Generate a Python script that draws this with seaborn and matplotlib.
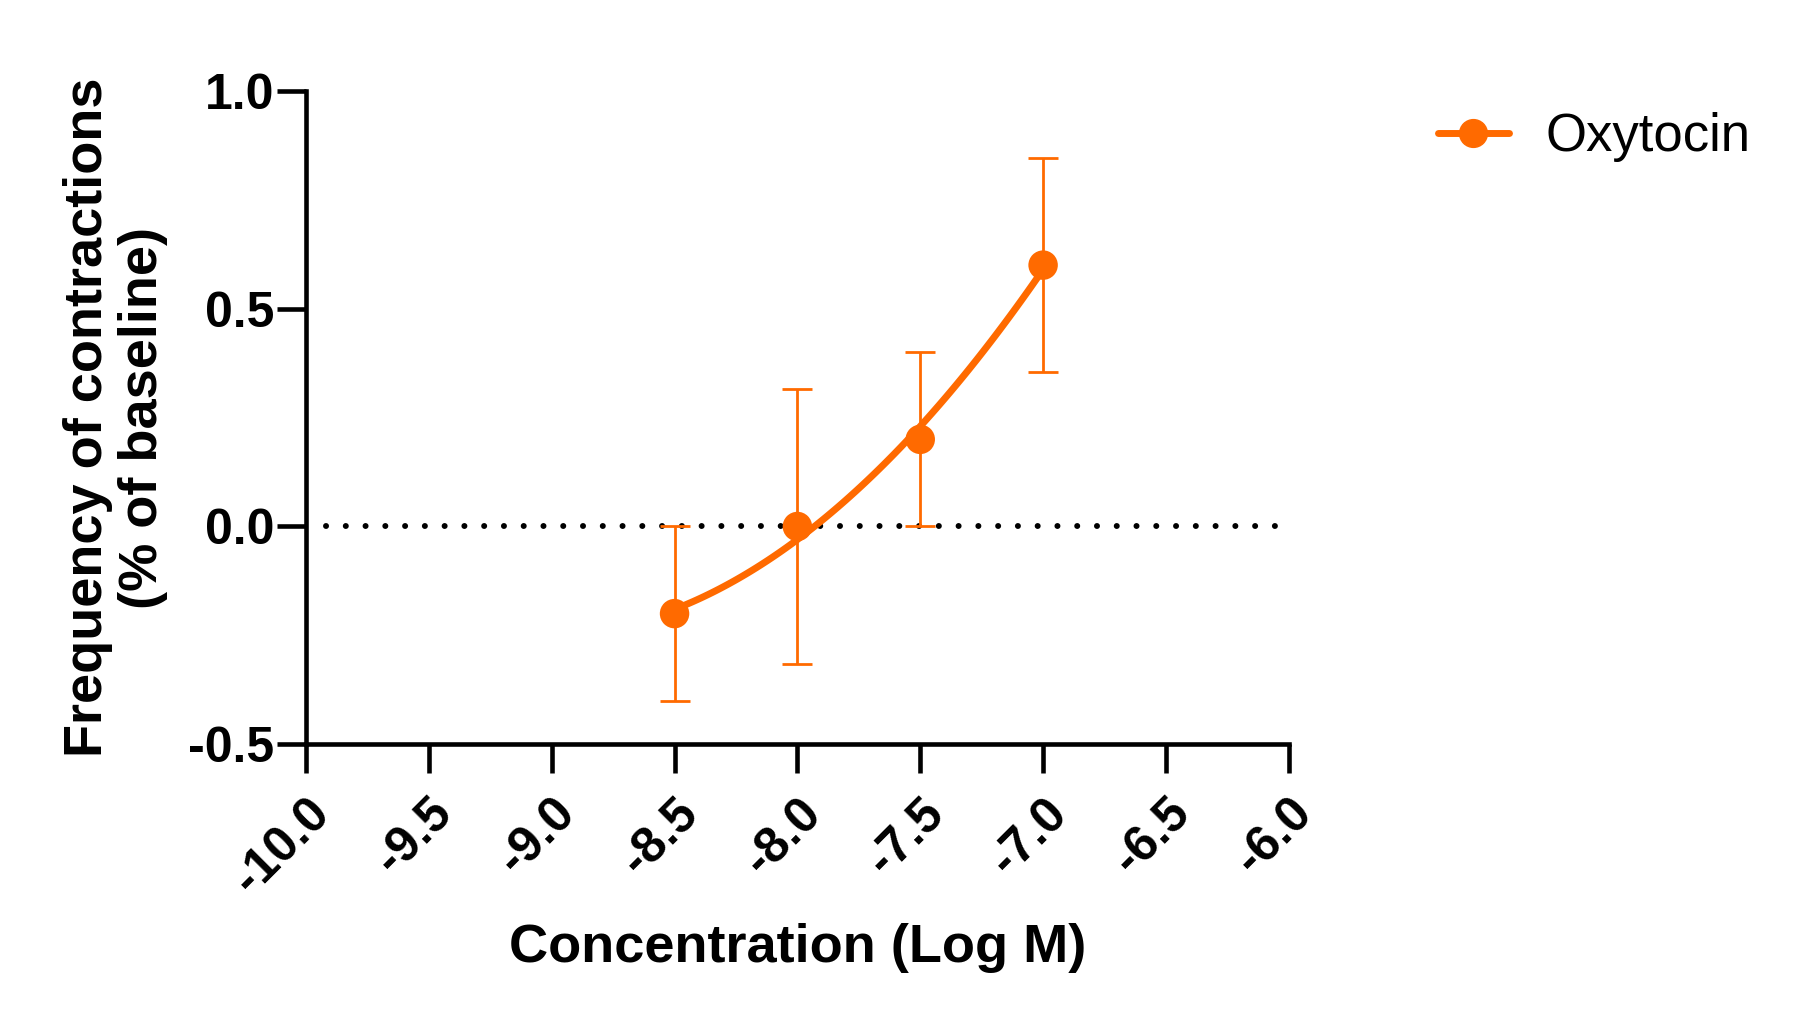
import matplotlib
matplotlib.use("Agg")
import matplotlib.pyplot as plt
from matplotlib.lines import Line2D
import seaborn as sns

# --- data ---
log_conc = [-8.5, -8.0, -7.5, -7.0]
mean_freq = [-0.2, 0.0, 0.2, 0.6]
sem_freq = [0.2, 0.315, 0.2, 0.245]
series_name = "Oxytocin"

x_ticks = [-10.0, -9.5, -9.0, -8.5, -8.0, -7.5, -7.0, -6.5, -6.0]
y_ticks = [-0.5, 0.0, 0.5, 1.0]

ORANGE = "#FF6A00"


def set_style():
    sns.set_theme(style="ticks")
    plt.rcParams['font.family'] = ['Liberation Sans', 'DejaVu Sans']
    plt.rcParams['axes.linewidth'] = 3.3
    plt.rcParams['axes.edgecolor'] = 'black'
    plt.rcParams['text.color'] = 'black'
    plt.rcParams['axes.labelcolor'] = 'black'


def plot():
    set_style()
    fig = plt.figure(figsize=(18, 10.21), dpi=100)
    ax = fig.add_axes([0.170, 0.271, 0.546, 0.640])

    # baseline at 0
    ax.axhline(0, xmin=0.02, xmax=0.995, color='black', lw=4.3,
               linestyle=(0, (0.01, 3.3)), dash_capstyle='round', zorder=1)

    # fitted curve through the means
    sns.regplot(x=log_conc, y=mean_freq, order=2, ci=None, scatter=False,
                truncate=True, color=ORANGE, line_kws={'lw': 5}, ax=ax)

    # error bars + points
    ax.errorbar(log_conc, mean_freq, yerr=sem_freq, fmt='none', ecolor=ORANGE,
                elinewidth=2, capsize=11, capthick=2, zorder=3)
    sns.scatterplot(x=log_conc, y=mean_freq, color=ORANGE, s=450,
                    edgecolor='none', zorder=4, ax=ax)

    ax.set_xlim(-10, -6)
    ax.set_ylim(-0.5, 1.0)
    ax.set_xticks(x_ticks)
    ax.set_yticks(y_ticks)
    ax.set_xticklabels([f"{t:.1f}" for t in x_ticks], rotation=45,
                       ha='right', rotation_mode='anchor', fontweight='bold')
    ax.set_yticklabels([f"{t:.1f}" for t in y_ticks], fontweight='bold')
    ax.tick_params(axis='both', length=21, width=3.3, labelsize=36, colors='black')
    ax.tick_params(axis='x', pad=12)
    ax.tick_params(axis='y', pad=2)

    ax.set_xlabel("Concentration (Log M)", fontsize=39, fontweight='bold', labelpad=14)
    ax.set_ylabel("Frequency of contractions\n(% of baseline)", fontsize=39,
                  fontweight='bold', labelpad=14, linespacing=1.15)
    sns.despine(ax=ax)

    handle = Line2D([], [], color=ORANGE, lw=5, marker='o', markersize=20)
    ax.legend([handle], [series_name], loc='upper left',
              bbox_to_anchor=(1.103, 1.04), frameon=False, fontsize=38,
              handlelength=1.35, handletextpad=0.7)

    plt.savefig("out.png", dpi=100)


if __name__ == "__main__":
    plot()
